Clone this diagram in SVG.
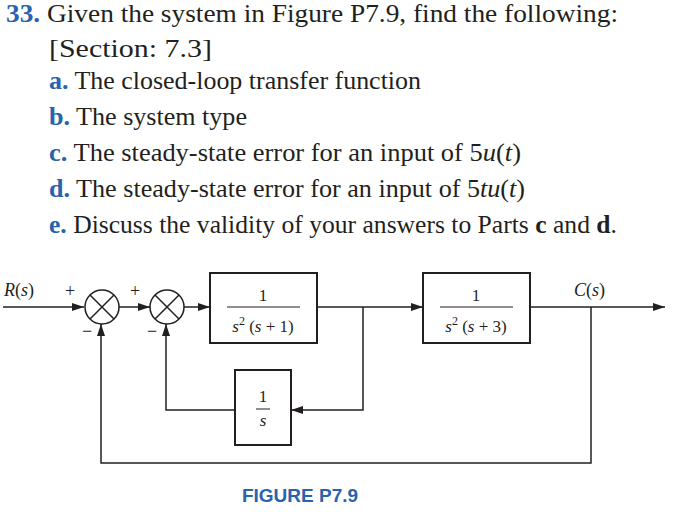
<svg xmlns="http://www.w3.org/2000/svg" width="697" height="525" viewBox="0 0 697 525">
<defs>
<marker id="ar" viewBox="0 0 12 8" refX="12" refY="4" markerWidth="12" markerHeight="8" markerUnits="userSpaceOnUse" orient="auto"><path d="M0,0L12,4L0,8z" fill="#231f20"/></marker>
<style>
.t{font-family:"Liberation Serif",serif;font-size:25px;fill:#231f20}
.b{fill:#2a63ad;font-weight:bold}
.m{font-family:"Liberation Serif",serif;font-size:17px;fill:#231f20}
.ln{stroke:#231f20;stroke-width:1.5;fill:none}
.bx{stroke:#231f20;stroke-width:2;fill:#fff}
</style>
</defs>
<rect width="697" height="525" fill="#fff"/>
<text class="t" x="6" y="22" textLength="612" lengthAdjust="spacingAndGlyphs"><tspan class="b">33.</tspan> Given the system in Figure P7.9, find the following:</text>
<text class="t" x="49" y="57" textLength="163" lengthAdjust="spacingAndGlyphs">[Section: 7.3]</text>
<text class="t" x="49" y="89" textLength="372" lengthAdjust="spacingAndGlyphs"><tspan class="b">a.</tspan> The closed-loop transfer function</text>
<text class="t" x="49" y="125" textLength="198" lengthAdjust="spacingAndGlyphs"><tspan class="b">b.</tspan> The system type</text>
<text class="t" x="49" y="161" textLength="472" lengthAdjust="spacingAndGlyphs"><tspan class="b">c.</tspan> The steady-state error for an input of 5<tspan font-style="italic">u</tspan>(<tspan font-style="italic">t</tspan>)</text>
<text class="t" x="49" y="197" textLength="476" lengthAdjust="spacingAndGlyphs"><tspan class="b">d.</tspan> The steady-state error for an input of 5<tspan font-style="italic">tu</tspan>(<tspan font-style="italic">t</tspan>)</text>
<text class="t" x="49" y="233" textLength="568" lengthAdjust="spacingAndGlyphs"><tspan class="b">e.</tspan> Discuss the validity of your answers to Parts <tspan font-weight="bold">c</tspan> and <tspan font-weight="bold">d</tspan>.</text>
<g id="connectors">
<path class="ln" d="M3,307H84" marker-end="url(#ar)"/>
<path class="ln" d="M119,307H150" marker-end="url(#ar)"/>
<path class="ln" d="M184,307H210" marker-end="url(#ar)"/>
<path class="ln" d="M317,307H423" marker-end="url(#ar)"/>
<path class="ln" d="M363,307V410H291" marker-end="url(#ar)"/>
<path class="ln" d="M235,410H166V324" marker-end="url(#ar)"/>
<path class="ln" d="M530,307H665" marker-end="url(#ar)"/>
<path class="ln" d="M591,307V463H101V324" marker-end="url(#ar)"/>
</g>
<g id="sum1"><circle class="ln" cx="102" cy="307" r="17"/><path class="ln" d="M90,295L114,319M114,295L90,319"/></g>
<g id="sum2"><circle class="ln" cx="167" cy="307" r="17"/><path class="ln" d="M155,295L179,319M179,295L155,319"/></g>
<g id="g1" font-family="Liberation Serif, serif" font-size="17" fill="#231f20"><rect class="bx" x="210" y="273" width="107" height="70"/><text x="263" y="301" text-anchor="middle">1</text><path d="M227,307H300" stroke="#231f20"/><text x="263" y="332" text-anchor="middle"><tspan font-style="italic">s</tspan><tspan font-size="12" dy="-7">2</tspan><tspan dy="7"> (</tspan><tspan font-style="italic">s</tspan> + 1)</text></g>
<g id="g2" font-family="Liberation Serif, serif" font-size="17" fill="#231f20"><rect class="bx" x="423" y="273" width="107" height="70"/><text x="476" y="301" text-anchor="middle">1</text><path d="M440,307H513" stroke="#231f20"/><text x="476" y="332" text-anchor="middle"><tspan font-style="italic">s</tspan><tspan font-size="12" dy="-7">2</tspan><tspan dy="7"> (</tspan><tspan font-style="italic">s</tspan> + 3)</text></g>
<g id="h" font-family="Liberation Serif, serif" font-size="17" fill="#231f20"><rect class="bx" x="235" y="370" width="56" height="75"/><text x="263" y="402" text-anchor="middle">1</text><path d="M256,409H270" stroke="#231f20"/><text x="263" y="426" text-anchor="middle" font-style="italic">s</text></g>
<g id="labels" font-family="Liberation Serif, serif" font-size="18" fill="#231f20">
<text x="4" y="296"><tspan font-style="italic">R</tspan>(<tspan font-style="italic">s</tspan>)</text>
<text x="574" y="296"><tspan font-style="italic">C</tspan>(<tspan font-style="italic">s</tspan>)</text>
<text x="70" y="297" text-anchor="middle">+</text>
<text x="135" y="297" text-anchor="middle">+</text>
<text x="87" y="337" text-anchor="middle">−</text>
<text x="152" y="337" text-anchor="middle">−</text>
</g>
<text x="300" y="502" text-anchor="middle" font-family="Liberation Sans,sans-serif" font-size="19" font-weight="bold" fill="#2a63ad">FIGURE P7.9</text>
</svg>
